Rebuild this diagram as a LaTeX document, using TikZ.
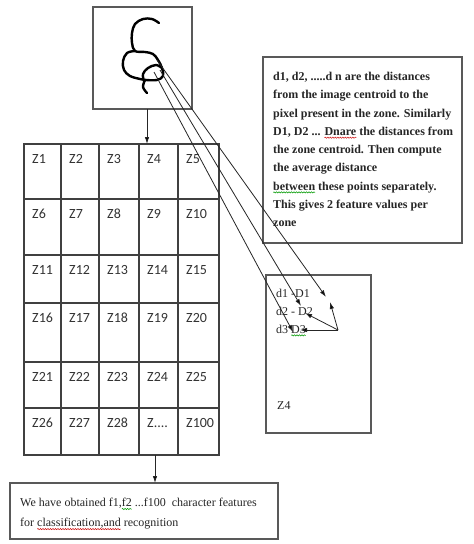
\documentclass[tikz,border=0pt]{standalone}
\usepackage{fontspec}
\setmainfont{Liberation Serif}
\newfontfamily\gridfont{Carlito}
\usetikzlibrary{arrows.meta,decorations.pathmorphing}
\newsavebox\wavebox
\newcommand\wavy[2]{\sbox\wavebox{#2}\leavevmode\rlap{\tikz[overlay,baseline=0pt,x=1pt,y=1pt]\draw[#1,line width=0.5pt,decorate,decoration={snake,amplitude=0.6pt,segment length=2.5pt}] (0,-2.4) -- (\the\wd\wavebox,-2.4);}\usebox\wavebox}
\newcommand\zdots{Z....}
\newcommand\zrow[8]{%
  \foreach \xa/\xb/\lab [count=\c] in {24/61/#4,61/99/#5,99/139/#6,139/178/#7,178/219/#8}{%
    \pgfmathsetmacro\ww{\xb-\xa}\pgfmathsetmacro\hh{#3-#2}%
    \node[cell, minimum width=\ww pt, minimum height=\hh pt] (cell-#1-\c) at (\xa,#2) {};
    \node[zlab] (lab-#1-\c) at (\xa+8,#2+19) {\lab};
  }}
\begin{document}
\begin{tikzpicture}[x=1pt,y=-1pt,
  box/.style={draw=black!65, line width=1.2pt, inner sep=0pt, outer sep=0pt, anchor=north west},
  cell/.style={draw=black!75, line width=1.2pt, inner sep=0pt, outer sep=0pt, anchor=north west},
  zlab/.style={font=\gridfont\fontsize{14}{14}\selectfont, text=black!80, anchor=base west, inner sep=0pt},
  conn/.style={draw=black!85, line width=0.8pt, -{Latex[length=7pt,width=4.5pt]}},
  ink/.style={draw=black, line width=2.4pt, line cap=round, line join=round},
  small/.style={font=\fontsize{12}{12}\selectfont, anchor=base west, inner sep=0pt, text=black!85}
]
\useasboundingbox (0,0) rectangle (474,544);
\fill[white] (0,0) rectangle (474,544);

% image box with handwritten character
\node[box, minimum width=99pt, minimum height=102pt] (img) at (93,7) {};
\draw[ink] plot[smooth, tension=0.6] coordinates {(159,23) (152,19) (143,19) (135,24) (132,33) (132,43) (135,51) (145,52) (153,54) (158,60) (162,68) (163,76) (157,80) (146,80)};
\draw[ink] plot[smooth, tension=0.6] coordinates {(135,51) (127,53) (123,61) (124,70) (130,76) (140,79) (146,80)};
\draw[ink] plot[smooth, tension=0.6] coordinates {(144,81) (143,74) (148,68) (156,65) (162,68)};
\draw[ink] plot[smooth, tension=0.6] coordinates {(145,80) (143,87) (147,93)};

% grid of zones
\node[inner sep=0pt, outer sep=0pt, minimum width=195pt, minimum height=311pt, anchor=north west] (grid) at (24,144) {};
\zrow{1}{144}{199}{Z1}{Z2}{Z3}{Z4}{Z5}
\zrow{2}{199}{255}{Z6}{Z7}{Z8}{Z9}{Z10}
\zrow{3}{255}{303}{Z11}{Z12}{Z13}{Z14}{Z15}
\zrow{4}{303}{362}{Z16}{Z17}{Z18}{Z19}{Z20}
\zrow{5}{362}{408}{Z21}{Z22}{Z23}{Z24}{Z25}
\zrow{6}{408}{455}{Z26}{Z27}{Z28}{\zdots}{Z100}

% explanation box
\node[box, minimum width=199pt, minimum height=186pt] (note) at (263,57) {};
\node[anchor=north west, align=left, inner sep=0pt, font=\bfseries\fontsize{12}{18.25}\selectfont, text=black!85]
  (notetext) at ([shift={(10,15)}]note.north west)
  {d1, d2, .....d n are the distances\\
   from the image centroid to the\\
   pixel present in the zone. Similarly\\
   D1, D2 ... \wavy{red!80!black}{Dnare} the distances from\\
   the zone centroid. Then compute\\
   the average distance\\
   \wavy{green!60!black}{between} these points separately.\\
   This gives 2 feature values per\\
   zone};

% zone Z4 enlarged
\node[box, minimum width=105pt, minimum height=158pt] (zone) at (266,275) {};
\node[small] (d1) at (276,297) {d1 -D1};
\node[small] (d2) at (276,315) {d2 - D2};
\node[small] (d3) at (276,333) {d3 \wavy{green!60!black}{D3}};
\node[small] (zname) at (277,409) {Z4};

% pixel points and centroids
\coordinate (s1) at (157,60);
\coordinate (s2) at (160,70);
\coordinate (s3) at (154,72);
\coordinate (c1) at (326,297);
\coordinate (c2) at (301,306);
\coordinate (c3) at (293,332);
\coordinate (zc) at (338,330);
\coordinate (z1) at (330,302);
\coordinate (z2) at (305,313);
\coordinate (z3) at (300,330);
\draw[conn] (s1) -- (c1);
\draw[conn] (s2) -- (c2);
\draw[conn] (s3) -- (c3);
\draw[conn] (zc) -- (z1);
\draw[conn] (zc) -- (z2);
\draw[conn] (zc) -- (z3);

% output box
\node[box, minimum width=268pt, minimum height=56pt] (out) at (10,483) {};
\node[anchor=north west, align=left, inner sep=0pt, font=\fontsize{12}{20}\selectfont, text=black!85]
  (outtext) at ([shift={(10,15)}]out.north west)
  {We have obtained f1,\wavy{green!60!black}{f2} ...f100\ \ character features\\
   for \wavy{red!80!black}{classification,and} recognition};

% flow arrows
\draw[conn] ([xshift=4.5pt]img.south) -- ([xshift=4.5pt]img.south |- grid.north);
\draw[conn] ([xshift=-3.5pt]cell-6-4.south) -- ([xshift=-3.5pt]cell-6-4.south |- out.north);
\end{tikzpicture}
\end{document}
